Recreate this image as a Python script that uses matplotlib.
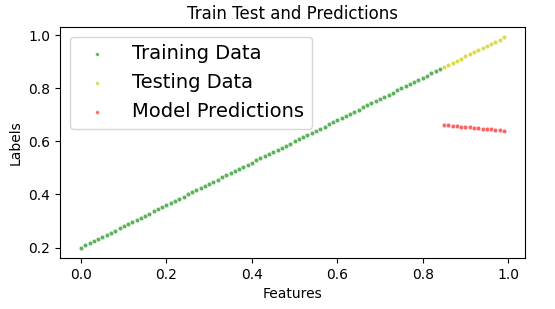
import matplotlib
matplotlib.use("Agg")
import matplotlib.pyplot as plt

train_x = [0.00, 0.01, 0.02, 0.03, 0.04, 0.05, 0.06, 0.07, 0.08, 0.09,
           0.10, 0.11, 0.12, 0.13, 0.14, 0.15, 0.16, 0.17, 0.18, 0.19,
           0.20, 0.21, 0.22, 0.23, 0.24, 0.25, 0.26, 0.27, 0.28, 0.29,
           0.30, 0.31, 0.32, 0.33, 0.34, 0.35, 0.36, 0.37, 0.38, 0.39,
           0.40, 0.41, 0.42, 0.43, 0.44, 0.45, 0.46, 0.47, 0.48, 0.49,
           0.50, 0.51, 0.52, 0.53, 0.54, 0.55, 0.56, 0.57, 0.58, 0.59,
           0.60, 0.61, 0.62, 0.63, 0.64, 0.65, 0.66, 0.67, 0.68, 0.69,
           0.70, 0.71, 0.72, 0.73, 0.74, 0.75, 0.76, 0.77, 0.78, 0.79,
           0.80, 0.81, 0.82, 0.83, 0.84]
train_y = [0.200, 0.208, 0.216, 0.224, 0.232, 0.240, 0.248, 0.256, 0.264, 0.272,
           0.280, 0.288, 0.296, 0.304, 0.312, 0.320, 0.328, 0.336, 0.344, 0.352,
           0.360, 0.368, 0.376, 0.384, 0.392, 0.400, 0.408, 0.416, 0.424, 0.432,
           0.440, 0.448, 0.456, 0.464, 0.472, 0.480, 0.488, 0.496, 0.504, 0.512,
           0.520, 0.528, 0.536, 0.544, 0.552, 0.560, 0.568, 0.576, 0.584, 0.592,
           0.600, 0.608, 0.616, 0.624, 0.632, 0.640, 0.648, 0.656, 0.664, 0.672,
           0.680, 0.688, 0.696, 0.704, 0.712, 0.720, 0.728, 0.736, 0.744, 0.752,
           0.760, 0.768, 0.776, 0.784, 0.792, 0.800, 0.808, 0.816, 0.824, 0.832,
           0.840, 0.848, 0.856, 0.864, 0.872]
test_x = [0.85, 0.86, 0.87, 0.88, 0.89, 0.90, 0.91, 0.92, 0.93, 0.94,
          0.95, 0.96, 0.97, 0.98, 0.99]
test_y = [0.880, 0.888, 0.896, 0.904, 0.912, 0.920, 0.928, 0.936, 0.944, 0.952,
          0.960, 0.968, 0.976, 0.984, 0.992]
pred_y = [0.661, 0.660, 0.658, 0.657, 0.656, 0.654, 0.653, 0.651, 0.650, 0.648,
          0.647, 0.646, 0.644, 0.643, 0.641]

fig, ax = plt.subplots(figsize=(5.55, 3.09), dpi=100)
kw = dict(s=12, edgecolors="white", linewidths=0.5, alpha=0.9)
ax.scatter(train_x, train_y, color="#4caa4c", label="Training Data", **kw)
ax.scatter(test_x, test_y, color="#d8d83a", label="Testing Data", **kw)
ax.scatter(test_x, pred_y, color="#ff5050", label="Model Predictions", **kw)

ax.set_title("Train Test and Predictions")
ax.set_xlabel("Features")
ax.set_ylabel("Labels")
ax.set_xticks([0.0, 0.2, 0.4, 0.6, 0.8, 1.0])
ax.set_yticks([0.2, 0.4, 0.6, 0.8, 1.0])
ax.legend(prop={"size": 14}, loc="upper left", markerscale=0.8)
fig.subplots_adjust(left=0.108, right=0.946, bottom=0.165, top=0.913)
fig.savefig("out.png", dpi=100)
